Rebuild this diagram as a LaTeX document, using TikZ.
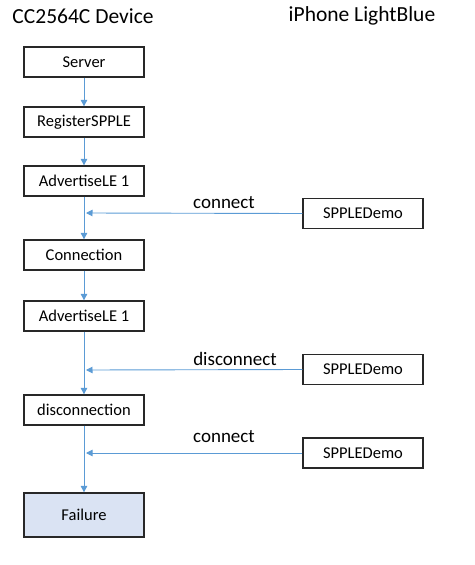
\documentclass[tikz,border=0pt]{standalone}
\usepackage{fontspec}
\setmainfont{Carlito}
\usetikzlibrary{arrows.meta}
\definecolor{arrowblue}{RGB}{91,155,213}
\definecolor{failfill}{RGB}{218,227,243}
\definecolor{boxline}{RGB}{40,40,40}
\begin{document}
\begin{tikzpicture}[x=1pt,y=-1pt,
  box/.style={draw=boxline,line width=1.3pt,minimum width=120pt,minimum height=30pt,inner sep=0pt,font=\fontsize{16.5}{18}\selectfont},
  flow/.style={draw=arrowblue,line width=0.9pt,-{Triangle[length=6.5pt,width=6.5pt]}},
  lab/.style={font=\fontsize{19}{21}\selectfont,inner sep=0pt},
  title/.style={font=\fontsize{21.5}{24}\selectfont,inner sep=0pt}]
\useasboundingbox (0,0) rectangle (474,565);
\node[title] (t1) at (83,16) {CC2564C Device};
\node[title] (t2) at (362,16) {iPhone LightBlue};
\node[box] (server) at (84,62) {Server};
\node[box] (reg) at (84,122) {RegisterSPPLE};
\node[box] (adv1) at (84,181) {AdvertiseLE 1};
\node[box] (conn) at (84,255) {Connection};
\node[box] (adv2) at (84,316) {AdvertiseLE 1};
\node[box] (disc) at (84,410) {disconnection};
\node[box,fill=failfill,minimum height=44pt] (fail) at (84,515) {Failure};
\node[box] (d1) at (363,213.5) {SPPLEDemo};
\node[box] (d2) at (363,369.5) {SPPLEDemo};
\node[box] (d3) at (363,453) {SPPLEDemo};
\coordinate (m1) at (86,213);
\coordinate (m2) at (86,370);
\coordinate (m3) at (86,453);
\draw[flow] (server) -- (reg);
\draw[flow] (reg) -- (adv1);
\draw[flow] (adv1) -- (conn);
\draw[flow] (conn) -- (adv2);
\draw[flow] (adv2) -- (disc);
\draw[flow] (disc) -- (fail);
\draw[flow] (d1.west) -- (m1);
\draw[flow] (d2.west) -- (m2);
\draw[flow] (d3.west) -- (m3);
\node[lab] (l1) at (224,203) {connect};
\node[lab] (l2) at (235,359) {disconnect};
\node[lab] (l3) at (224,437) {connect};
\end{tikzpicture}
\end{document}
